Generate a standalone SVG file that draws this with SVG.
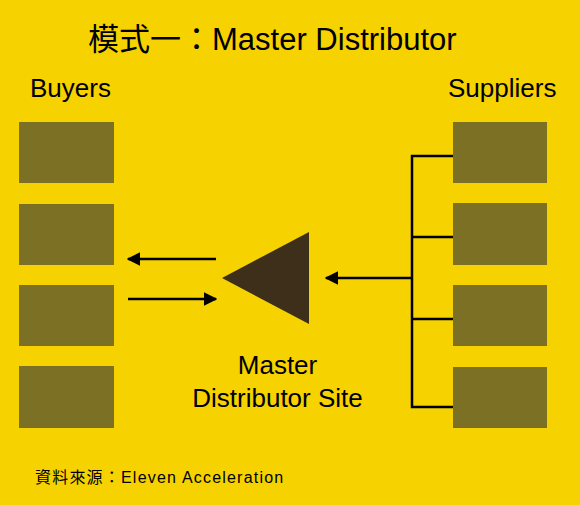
<svg xmlns="http://www.w3.org/2000/svg" width="580" height="505" viewBox="0 0 580 505">
<defs>
<style>
.t{font-family:"Liberation Sans","Noto Sans CJK TC",sans-serif;fill:#000}
.box{fill:#7b7024}
.ln{stroke:#000;stroke-width:2.5;fill:none}
</style>
<marker id="ah" viewBox="0 0 10 10" refX="9" refY="5" markerWidth="5.5" markerHeight="5.5" markerUnits="strokeWidth" orient="auto">
<path d="M0,0 L10,5 L0,10 Z" fill="#000"/>
</marker>
</defs>
<rect width="580" height="505" fill="#f5d200"/>
<text class="t" x="88" y="50" font-size="31">模式一：Master Distributor</text>
<text class="t" x="30" y="97" font-size="26">Buyers</text>
<text class="t" x="448" y="97" font-size="26">Suppliers</text>
<g id="buyer1"><rect class="box" x="19" y="122" width="95" height="61"/></g>
<g id="buyer2"><rect class="box" x="19" y="204" width="95" height="61"/></g>
<g id="buyer3"><rect class="box" x="19" y="285" width="95" height="61"/></g>
<g id="buyer4"><rect class="box" x="19" y="366" width="95" height="62"/></g>
<g id="supplier1"><rect class="box" x="453" y="122" width="94" height="61"/></g>
<g id="supplier2"><rect class="box" x="453" y="203" width="94" height="62"/></g>
<g id="supplier3"><rect class="box" x="453" y="285" width="94" height="61"/></g>
<g id="supplier4"><rect class="box" x="453" y="367" width="94" height="61"/></g>
<g id="site">
<polygon points="222,278 309,232 309,324" fill="#3d2f1a"/>
<text class="t" x="277.5" y="374" font-size="26" text-anchor="middle">Master</text>
<text class="t" x="277.5" y="407" font-size="26" text-anchor="middle">Distributor Site</text>
</g>
<g id="connectors">
<path class="ln" d="M453,156 H412 V407 H453 M412,237 H453 M412,319 H453"/>
<line class="ln" x1="412" y1="278" x2="326" y2="278" marker-end="url(#ah)"/>
<line class="ln" x1="216" y1="259" x2="128" y2="259" marker-end="url(#ah)"/>
<line class="ln" x1="128" y1="299" x2="216" y2="299" marker-end="url(#ah)"/>
</g>
<text class="t" x="35" y="483" font-size="16" letter-spacing="1.2">資料來源：Eleven Acceleration</text>
</svg>
